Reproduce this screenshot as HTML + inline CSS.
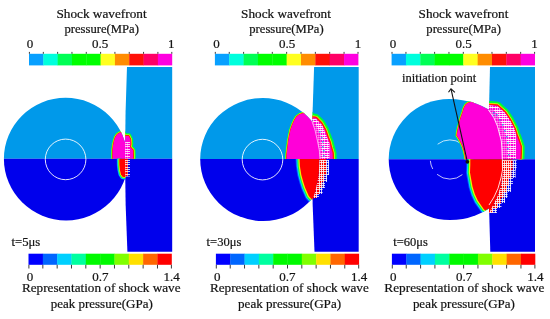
<!DOCTYPE html>
<html><head><meta charset="utf-8"><title>Shock wave pressure</title>
<style>html,body{margin:0;padding:0;background:#fff}svg{display:block}text{font-family:"Liberation Serif",serif;fill:#141414;stroke:#141414;stroke-width:0.22px}</style></head><body>
<svg width="550" height="319" viewBox="0 0 550 319">
<rect width="550" height="319" fill="#fff"/>
<g>
<text x="56.40" y="17.9" font-size="13" text-anchor="start" textLength="90.2" lengthAdjust="spacingAndGlyphs">Shock wavefront</text>
<text x="64.40" y="32.9" font-size="13" text-anchor="start" textLength="74.5" lengthAdjust="spacingAndGlyphs">pressure(MPa)</text>
<text x="30.00" y="47.8" font-size="13" text-anchor="middle">0</text>
<text x="100.00" y="47.8" font-size="13" text-anchor="middle">0.5</text>
<text x="171.20" y="47.8" font-size="13" text-anchor="middle">1</text>
<rect x="29.00" y="53.8" width="14.62" height="11.60" fill="#08a0ff"/>
<rect x="43.32" y="53.8" width="14.62" height="11.60" fill="#00ffdd"/>
<rect x="57.64" y="53.8" width="14.62" height="11.60" fill="#00ff55"/>
<rect x="71.96" y="53.8" width="14.62" height="11.60" fill="#00ff00"/>
<rect x="86.28" y="53.8" width="14.62" height="11.60" fill="#00ff00"/>
<rect x="100.60" y="53.8" width="14.62" height="11.60" fill="#ffff20"/>
<rect x="114.92" y="53.8" width="14.62" height="11.60" fill="#ff8c00"/>
<rect x="129.24" y="53.8" width="14.62" height="11.60" fill="#ff1008"/>
<rect x="143.56" y="53.8" width="14.62" height="11.60" fill="#ff0066"/>
<rect x="157.88" y="53.8" width="14.32" height="11.60" fill="#ff00e0"/>
<line x1="29.40" y1="51.9" x2="29.40" y2="53.8" stroke="#3c3c3c" stroke-width="1"/>
<line x1="43.32" y1="51.9" x2="43.32" y2="53.8" stroke="#3c3c3c" stroke-width="1"/>
<line x1="57.64" y1="51.9" x2="57.64" y2="53.8" stroke="#3c3c3c" stroke-width="1"/>
<line x1="71.96" y1="51.9" x2="71.96" y2="53.8" stroke="#3c3c3c" stroke-width="1"/>
<line x1="86.28" y1="51.9" x2="86.28" y2="53.8" stroke="#3c3c3c" stroke-width="1"/>
<line x1="100.60" y1="51.9" x2="100.60" y2="53.8" stroke="#3c3c3c" stroke-width="1"/>
<line x1="114.92" y1="51.9" x2="114.92" y2="53.8" stroke="#3c3c3c" stroke-width="1"/>
<line x1="129.24" y1="51.9" x2="129.24" y2="53.8" stroke="#3c3c3c" stroke-width="1"/>
<line x1="143.56" y1="51.9" x2="143.56" y2="53.8" stroke="#3c3c3c" stroke-width="1"/>
<line x1="157.88" y1="51.9" x2="157.88" y2="53.8" stroke="#3c3c3c" stroke-width="1"/>
<line x1="171.80" y1="51.9" x2="171.80" y2="53.8" stroke="#3c3c3c" stroke-width="1"/>
<rect x="28.50" y="253.7" width="14.63" height="11.10" fill="#0000ff"/>
<rect x="42.83" y="253.7" width="14.63" height="11.10" fill="#0066ff"/>
<rect x="57.16" y="253.7" width="14.63" height="11.10" fill="#00d0ff"/>
<rect x="71.49" y="253.7" width="14.63" height="11.10" fill="#00ffa0"/>
<rect x="85.82" y="253.7" width="14.63" height="11.10" fill="#00fa00"/>
<rect x="100.15" y="253.7" width="14.63" height="11.10" fill="#00fa00"/>
<rect x="114.48" y="253.7" width="14.63" height="11.10" fill="#80ff00"/>
<rect x="128.81" y="253.7" width="14.63" height="11.10" fill="#ffe000"/>
<rect x="143.14" y="253.7" width="14.63" height="11.10" fill="#ff6600"/>
<rect x="157.47" y="253.7" width="14.33" height="11.10" fill="#ff0000"/>
<line x1="28.90" y1="264.8" x2="28.90" y2="268.5" stroke="#3c3c3c" stroke-width="1"/>
<line x1="42.83" y1="264.8" x2="42.83" y2="268.5" stroke="#3c3c3c" stroke-width="1"/>
<line x1="57.16" y1="264.8" x2="57.16" y2="268.5" stroke="#3c3c3c" stroke-width="1"/>
<line x1="71.49" y1="264.8" x2="71.49" y2="268.5" stroke="#3c3c3c" stroke-width="1"/>
<line x1="85.82" y1="264.8" x2="85.82" y2="268.5" stroke="#3c3c3c" stroke-width="1"/>
<line x1="100.15" y1="264.8" x2="100.15" y2="268.5" stroke="#3c3c3c" stroke-width="1"/>
<line x1="114.48" y1="264.8" x2="114.48" y2="268.5" stroke="#3c3c3c" stroke-width="1"/>
<line x1="128.81" y1="264.8" x2="128.81" y2="268.5" stroke="#3c3c3c" stroke-width="1"/>
<line x1="143.14" y1="264.8" x2="143.14" y2="268.5" stroke="#3c3c3c" stroke-width="1"/>
<line x1="157.47" y1="264.8" x2="157.47" y2="268.5" stroke="#3c3c3c" stroke-width="1"/>
<line x1="171.40" y1="264.8" x2="171.40" y2="268.5" stroke="#3c3c3c" stroke-width="1"/>
<text x="30.00" y="280.5" font-size="13" text-anchor="middle">0</text>
<text x="100.30" y="280.5" font-size="13" text-anchor="middle">0.7</text>
<text x="171.70" y="280.5" font-size="13" text-anchor="middle">1.4</text>
<text x="21.90" y="292.3" font-size="13" text-anchor="start" textLength="158.6" lengthAdjust="spacingAndGlyphs">Representation of shock wave</text>
<text x="50.70" y="308.2" font-size="13" text-anchor="start" textLength="102.1" lengthAdjust="spacingAndGlyphs">peak pressure(GPa)</text>
<text x="11.50" y="245.7" font-size="13" text-anchor="start" textLength="28.8" lengthAdjust="spacingAndGlyphs">t=5μs</text>
<clipPath id="ct1"><path d="M127,67.0 L172.2,67.0 L172.2,158.8 L125,158.8 Q125.1,112 127,67.0 Z"/><path d="M3.90,158.8 A61.7,61.0 0 0 1 65.6,97.80 A61.7,61.0 0 0 1 127.30,158.8 Z"/></clipPath>
<clipPath id="cb1"><path d="M125,158.8 L172.2,158.8 L172.2,251.8 L127.4,251.8 Q125.1,205 125,158.8 Z"/><path d="M3.90,158.8 A62.2,61.6 0 0 0 66.1,220.40 A62.2,61.6 0 0 0 128.30,158.8 Z"/></clipPath>
<clipPath id="cpt1"><path d="M127,67.0 L172.2,67.0 L172.2,158.8 L125,158.8 Q125.1,112 127,67.0 Z"/></clipPath>
<clipPath id="cpb1"><path d="M125,158.8 L172.2,158.8 L172.2,251.8 L127.4,251.8 Q125.1,205 125,158.8 Z"/></clipPath>
<clipPath id="cct1"><path d="M3.90,158.8 A61.7,61.0 0 0 1 65.6,97.80 A61.7,61.0 0 0 1 127.30,158.8 Z"/></clipPath>
<clipPath id="ccb1"><path d="M3.90,158.8 A62.2,61.6 0 0 0 66.1,220.40 A62.2,61.6 0 0 0 128.30,158.8 Z"/></clipPath>
<path d="M127,67.0 L172.2,67.0 L172.2,158.8 L125,158.8 Q125.1,112 127,67.0 Z" fill="#0099ea"/>
<path d="M125,158.8 L172.2,158.8 L172.2,251.8 L127.4,251.8 Q125.1,205 125,158.8 Z" fill="#0000ec"/>
<path d="M3.90,158.8 A61.7,61.0 0 0 1 65.6,97.80 A61.7,61.0 0 0 1 127.30,158.8 Z" fill="#0099ea"/>
<path d="M3.90,158.8 A62.2,61.6 0 0 0 66.1,220.40 A62.2,61.6 0 0 0 128.30,158.8 Z" fill="#0000ec"/>
<circle cx="65.6" cy="159.4" r="20.3" fill="none" stroke="#fff" stroke-width="1" opacity="0.88"/>
<g clip-path="url(#ct1)">
<path d="M112.6,161.8 L112.7,150.0 L113.2,145.4 L114.1,141.0 L115.3,137.2 L117.3,134.3 L120.4,132.5 L123.0,132.3 L125.0,135.9 L128.7,135.9 L130.4,139.4 L130.7,144.0 L130.0,146.9 L131.5,148.6 L133.0,150.2 L133.3,161.8 Z" fill="none" stroke="#00ff30" stroke-width="3.3" stroke-linejoin="round" stroke-linecap="round"/>
<path d="M112.6,161.8 L112.7,150.0 L113.2,145.4 L114.1,141.0 L115.3,137.2 L117.3,134.3 L120.4,132.5 L123.0,132.3 L125.0,135.9 L128.7,135.9 L130.4,139.4 L130.7,144.0 L130.0,146.9 L131.5,148.6 L133.0,150.2 L133.3,161.8 Z" fill="none" stroke="#e8ff00" stroke-width="2.1" stroke-linejoin="round" stroke-linecap="round"/>
<path d="M112.6,161.8 L112.7,150.0 L113.2,145.4 L114.1,141.0 L115.3,137.2 L117.3,134.3 L120.4,132.5 L123.0,132.3 L125.0,135.9 L128.7,135.9 L130.4,139.4 L130.7,144.0 L130.0,146.9 L131.5,148.6 L133.0,150.2 L133.3,161.8 Z" fill="none" stroke="#ff2000" stroke-width="1.2" stroke-linejoin="round" stroke-linecap="round"/>
</g>
<g clip-path="url(#cpt1)">
<path d="M112.6,161.8 L112.7,150.0 L113.2,145.4 L114.1,141.0 L115.3,137.2 L117.3,134.3 L120.4,132.5 L123.0,132.3 L125.0,135.9 L128.7,135.9 L130.4,139.4 L130.7,144.0 L130.0,146.9 L131.5,148.6 L133.0,150.2 L133.3,161.8 Z" fill="none" stroke="#00ff30" stroke-width="5.2" stroke-linejoin="round" stroke-linecap="round"/>
<path d="M112.6,161.8 L112.7,150.0 L113.2,145.4 L114.1,141.0 L115.3,137.2 L117.3,134.3 L120.4,132.5 L123.0,132.3 L125.0,135.9 L128.7,135.9 L130.4,139.4 L130.7,144.0 L130.0,146.9 L131.5,148.6 L133.0,150.2 L133.3,161.8 Z" fill="none" stroke="#e8ff00" stroke-width="3.0" stroke-linejoin="round" stroke-linecap="round"/>
<path d="M112.6,161.8 L112.7,150.0 L113.2,145.4 L114.1,141.0 L115.3,137.2 L117.3,134.3 L120.4,132.5 L123.0,132.3 L125.0,135.9 L128.7,135.9 L130.4,139.4 L130.7,144.0 L130.0,146.9 L131.5,148.6 L133.0,150.2 L133.3,161.8 Z" fill="none" stroke="#ff2000" stroke-width="1.7" stroke-linejoin="round" stroke-linecap="round"/>
</g>
<g clip-path="url(#ct1)">
<path d="M112.6,161.8 L112.7,150.0 L113.2,145.4 L114.1,141.0 L115.3,137.2 L117.3,134.3 L120.4,132.5 L123.0,132.3 L125.0,135.9 L128.7,135.9 L130.4,139.4 L130.7,144.0 L130.0,146.9 L131.5,148.6 L133.0,150.2 L133.3,161.8 Z" fill="#ff00d8"/>
</g>
<g clip-path="url(#ccb1)">
<path d="M119.2,155.8 L119.4,165.0 L119.9,170.0 L120.9,174.3 L122.6,176.8 L126.5,177.4" fill="none" stroke="#0050ff" stroke-width="5.2" stroke-linejoin="round" stroke-linecap="round"/>
<path d="M119.2,155.8 L119.4,165.0 L119.9,170.0 L120.9,174.3 L122.6,176.8 L126.5,177.4" fill="none" stroke="#00d8ff" stroke-width="4.2" stroke-linejoin="round" stroke-linecap="round"/>
<path d="M119.2,155.8 L119.4,165.0 L119.9,170.0 L120.9,174.3 L122.6,176.8 L126.5,177.4" fill="none" stroke="#00ff40" stroke-width="3.0" stroke-linejoin="round" stroke-linecap="round"/>
<path d="M119.2,155.8 L119.4,165.0 L119.9,170.0 L120.9,174.3 L122.6,176.8 L126.5,177.4" fill="none" stroke="#f0f000" stroke-width="1.6" stroke-linejoin="round" stroke-linecap="round"/>
<path d="M119.2,155.8 L119.4,165.0 L119.9,170.0 L120.9,174.3 L122.6,176.8 L126.5,177.4 L126.5,155.8 Z" fill="#ff0000"/>
</g>
<g clip-path="url(#cpt1)"><clipPath id="g1t"><path d="M125.0,141.5 L130.0,141.5 L130.0,158.8 L125.0,158.8 Z"/></clipPath>
<g clip-path="url(#g1t)" shape-rendering="crispEdges">
<path d="M125.00,142.5H130.00M125.00,144.5H130.00M125.00,146.5H130.00M125.00,149.5H130.00M125.00,151.5H130.00M125.00,153.5H130.00M125.00,156.5H130.00M125.00,158.5H130.00" stroke="#fff" stroke-width="1" opacity="0.78" fill="none"/>
<path d="M125.50,142V158.8M127.50,142V158.8M130.50,142V158.8" stroke="#fff" stroke-width="1" opacity="0.35" fill="none"/>
</g></g>
<g clip-path="url(#cpb1)"><path d="M125.0,158.8 L128.0,158.8 L128.0,176.0 L125.0,176.0 Z" fill="#ff0000"/><clipPath id="g1b"><path d="M125.0,158.8 L130.0,158.8 L130.0,176.5 L125.0,176.5 Z"/></clipPath>
<g clip-path="url(#g1b)" shape-rendering="crispEdges">
<path d="M125.00,160.5H130.00M125.00,162.5H130.00M125.00,164.5H130.00M125.00,167.5H130.00M125.00,169.5H130.00M125.00,171.5H130.00M125.00,174.5H130.00M125.00,176.5H130.00" stroke="#fff" stroke-width="1" opacity="0.78" fill="none"/>
<path d="M125.50,160.0V176.5M127.50,160.0V176.5M130.50,160.0V176.5" stroke="#fff" stroke-width="1" opacity="0.35" fill="none"/>
</g></g>
</g>
<g>
<text x="241.10" y="17.9" font-size="13" text-anchor="start" textLength="89.8" lengthAdjust="spacingAndGlyphs">Shock wavefront</text>
<text x="249.30" y="32.9" font-size="13" text-anchor="start" textLength="74.3" lengthAdjust="spacingAndGlyphs">pressure(MPa)</text>
<text x="216.40" y="47.8" font-size="13" text-anchor="middle">0</text>
<text x="287.00" y="47.8" font-size="13" text-anchor="middle">0.5</text>
<text x="358.00" y="47.8" font-size="13" text-anchor="middle">1</text>
<rect x="214.90" y="53.8" width="14.65" height="11.60" fill="#08a0ff"/>
<rect x="229.25" y="53.8" width="14.65" height="11.60" fill="#00ffdd"/>
<rect x="243.60" y="53.8" width="14.65" height="11.60" fill="#00ff55"/>
<rect x="257.95" y="53.8" width="14.65" height="11.60" fill="#00ff00"/>
<rect x="272.30" y="53.8" width="14.65" height="11.60" fill="#00ff00"/>
<rect x="286.65" y="53.8" width="14.65" height="11.60" fill="#ffff20"/>
<rect x="301.00" y="53.8" width="14.65" height="11.60" fill="#ff8c00"/>
<rect x="315.35" y="53.8" width="14.65" height="11.60" fill="#ff1008"/>
<rect x="329.70" y="53.8" width="14.65" height="11.60" fill="#ff0066"/>
<rect x="344.05" y="53.8" width="14.35" height="11.60" fill="#ff00e0"/>
<line x1="215.30" y1="51.9" x2="215.30" y2="53.8" stroke="#3c3c3c" stroke-width="1"/>
<line x1="229.25" y1="51.9" x2="229.25" y2="53.8" stroke="#3c3c3c" stroke-width="1"/>
<line x1="243.60" y1="51.9" x2="243.60" y2="53.8" stroke="#3c3c3c" stroke-width="1"/>
<line x1="257.95" y1="51.9" x2="257.95" y2="53.8" stroke="#3c3c3c" stroke-width="1"/>
<line x1="272.30" y1="51.9" x2="272.30" y2="53.8" stroke="#3c3c3c" stroke-width="1"/>
<line x1="286.65" y1="51.9" x2="286.65" y2="53.8" stroke="#3c3c3c" stroke-width="1"/>
<line x1="301.00" y1="51.9" x2="301.00" y2="53.8" stroke="#3c3c3c" stroke-width="1"/>
<line x1="315.35" y1="51.9" x2="315.35" y2="53.8" stroke="#3c3c3c" stroke-width="1"/>
<line x1="329.70" y1="51.9" x2="329.70" y2="53.8" stroke="#3c3c3c" stroke-width="1"/>
<line x1="344.05" y1="51.9" x2="344.05" y2="53.8" stroke="#3c3c3c" stroke-width="1"/>
<line x1="358.00" y1="51.9" x2="358.00" y2="53.8" stroke="#3c3c3c" stroke-width="1"/>
<rect x="215.90" y="253.7" width="14.62" height="11.10" fill="#0000ff"/>
<rect x="230.22" y="253.7" width="14.62" height="11.10" fill="#0066ff"/>
<rect x="244.54" y="253.7" width="14.62" height="11.10" fill="#00d0ff"/>
<rect x="258.86" y="253.7" width="14.62" height="11.10" fill="#00ffa0"/>
<rect x="273.18" y="253.7" width="14.62" height="11.10" fill="#00fa00"/>
<rect x="287.50" y="253.7" width="14.62" height="11.10" fill="#00fa00"/>
<rect x="301.82" y="253.7" width="14.62" height="11.10" fill="#80ff00"/>
<rect x="316.14" y="253.7" width="14.62" height="11.10" fill="#ffe000"/>
<rect x="330.46" y="253.7" width="14.62" height="11.10" fill="#ff6600"/>
<rect x="344.78" y="253.7" width="14.32" height="11.10" fill="#ff0000"/>
<line x1="216.30" y1="264.8" x2="216.30" y2="268.5" stroke="#3c3c3c" stroke-width="1"/>
<line x1="230.22" y1="264.8" x2="230.22" y2="268.5" stroke="#3c3c3c" stroke-width="1"/>
<line x1="244.54" y1="264.8" x2="244.54" y2="268.5" stroke="#3c3c3c" stroke-width="1"/>
<line x1="258.86" y1="264.8" x2="258.86" y2="268.5" stroke="#3c3c3c" stroke-width="1"/>
<line x1="273.18" y1="264.8" x2="273.18" y2="268.5" stroke="#3c3c3c" stroke-width="1"/>
<line x1="287.50" y1="264.8" x2="287.50" y2="268.5" stroke="#3c3c3c" stroke-width="1"/>
<line x1="301.82" y1="264.8" x2="301.82" y2="268.5" stroke="#3c3c3c" stroke-width="1"/>
<line x1="316.14" y1="264.8" x2="316.14" y2="268.5" stroke="#3c3c3c" stroke-width="1"/>
<line x1="330.46" y1="264.8" x2="330.46" y2="268.5" stroke="#3c3c3c" stroke-width="1"/>
<line x1="344.78" y1="264.8" x2="344.78" y2="268.5" stroke="#3c3c3c" stroke-width="1"/>
<line x1="358.70" y1="264.8" x2="358.70" y2="268.5" stroke="#3c3c3c" stroke-width="1"/>
<text x="217.20" y="280.5" font-size="13" text-anchor="middle">0</text>
<text x="287.40" y="280.5" font-size="13" text-anchor="middle">0.7</text>
<text x="359.00" y="280.5" font-size="13" text-anchor="middle">1.4</text>
<text x="209.90" y="292.3" font-size="13" text-anchor="start" textLength="158.9" lengthAdjust="spacingAndGlyphs">Representation of shock wave</text>
<text x="238.00" y="308.2" font-size="13" text-anchor="start" textLength="103.1" lengthAdjust="spacingAndGlyphs">peak pressure(GPa)</text>
<text x="206.60" y="245.7" font-size="13" text-anchor="start" textLength="34.7" lengthAdjust="spacingAndGlyphs">t=30μs</text>
<clipPath id="ct2"><path d="M314.1,67.0 L358.7,67.0 L358.7,159.0 L312,159.0 Q312.1,112 314.1,67.0 Z"/><path d="M200.20,159.0 A62.5,61.0 0 0 1 262.7,98.00 A62.5,61.0 0 0 1 325.20,159.0 Z"/></clipPath>
<clipPath id="cb2"><path d="M312,159.0 L358.7,159.0 L358.7,251.8 L314.5,251.8 Q312.1,205 312,159.0 Z"/><path d="M200.20,159.0 A63.15,62.1 0 0 0 263.35,221.10 A63.15,62.1 0 0 0 326.50,159.0 Z"/></clipPath>
<clipPath id="cpt2"><path d="M314.1,67.0 L358.7,67.0 L358.7,159.0 L312,159.0 Q312.1,112 314.1,67.0 Z"/></clipPath>
<clipPath id="cpb2"><path d="M312,159.0 L358.7,159.0 L358.7,251.8 L314.5,251.8 Q312.1,205 312,159.0 Z"/></clipPath>
<clipPath id="cct2"><path d="M200.20,159.0 A62.5,61.0 0 0 1 262.7,98.00 A62.5,61.0 0 0 1 325.20,159.0 Z"/></clipPath>
<clipPath id="ccb2"><path d="M200.20,159.0 A63.15,62.1 0 0 0 263.35,221.10 A63.15,62.1 0 0 0 326.50,159.0 Z"/></clipPath>
<path d="M314.1,67.0 L358.7,67.0 L358.7,159.0 L312,159.0 Q312.1,112 314.1,67.0 Z" fill="#0099ea"/>
<path d="M312,159.0 L358.7,159.0 L358.7,251.8 L314.5,251.8 Q312.1,205 312,159.0 Z" fill="#0000ec"/>
<path d="M200.20,159.0 A62.5,61.0 0 0 1 262.7,98.00 A62.5,61.0 0 0 1 325.20,159.0 Z" fill="#0099ea"/>
<path d="M200.20,159.0 A63.15,62.1 0 0 0 263.35,221.10 A63.15,62.1 0 0 0 326.50,159.0 Z" fill="#0000ec"/>
<circle cx="262.5" cy="159.6" r="20.3" fill="none" stroke="#fff" stroke-width="1" opacity="0.88"/>
<g clip-path="url(#ct2)">
<path d="M286.4,162.0 L286.8,154.0 L287.3,150.0 L288.5,140.0 L290.5,130.0 L292.3,125.0 L294.5,120.0 L296.3,117.0 L299.5,114.5 L303.0,113.2 L308.0,113.0 L312.0,117.3 L316.0,118.0 L321.0,123.0 L325.0,130.0 L327.5,137.0 L329.5,142.0 L331.0,148.0 L332.5,153.0 L332.9,162.0 Z" fill="none" stroke="#00ff30" stroke-width="3.3" stroke-linejoin="round" stroke-linecap="round"/>
<path d="M286.4,162.0 L286.8,154.0 L287.3,150.0 L288.5,140.0 L290.5,130.0 L292.3,125.0 L294.5,120.0 L296.3,117.0 L299.5,114.5 L303.0,113.2 L308.0,113.0 L312.0,117.3 L316.0,118.0 L321.0,123.0 L325.0,130.0 L327.5,137.0 L329.5,142.0 L331.0,148.0 L332.5,153.0 L332.9,162.0 Z" fill="none" stroke="#e8ff00" stroke-width="2.1" stroke-linejoin="round" stroke-linecap="round"/>
<path d="M286.4,162.0 L286.8,154.0 L287.3,150.0 L288.5,140.0 L290.5,130.0 L292.3,125.0 L294.5,120.0 L296.3,117.0 L299.5,114.5 L303.0,113.2 L308.0,113.0 L312.0,117.3 L316.0,118.0 L321.0,123.0 L325.0,130.0 L327.5,137.0 L329.5,142.0 L331.0,148.0 L332.5,153.0 L332.9,162.0 Z" fill="none" stroke="#ff2000" stroke-width="1.2" stroke-linejoin="round" stroke-linecap="round"/>
</g>
<g clip-path="url(#cpt2)">
<path d="M286.4,162.0 L286.8,154.0 L287.3,150.0 L288.5,140.0 L290.5,130.0 L292.3,125.0 L294.5,120.0 L296.3,117.0 L299.5,114.5 L303.0,113.2 L308.0,113.0 L312.0,117.3 L316.0,118.0 L321.0,123.0 L325.0,130.0 L327.5,137.0 L329.5,142.0 L331.0,148.0 L332.5,153.0 L332.9,162.0 Z" fill="none" stroke="#00ff30" stroke-width="8.0" stroke-linejoin="round" stroke-linecap="round"/>
<path d="M286.4,162.0 L286.8,154.0 L287.3,150.0 L288.5,140.0 L290.5,130.0 L292.3,125.0 L294.5,120.0 L296.3,117.0 L299.5,114.5 L303.0,113.2 L308.0,113.0 L312.0,117.3 L316.0,118.0 L321.0,123.0 L325.0,130.0 L327.5,137.0 L329.5,142.0 L331.0,148.0 L332.5,153.0 L332.9,162.0 Z" fill="none" stroke="#e8ff00" stroke-width="4.2" stroke-linejoin="round" stroke-linecap="round"/>
<path d="M286.4,162.0 L286.8,154.0 L287.3,150.0 L288.5,140.0 L290.5,130.0 L292.3,125.0 L294.5,120.0 L296.3,117.0 L299.5,114.5 L303.0,113.2 L308.0,113.0 L312.0,117.3 L316.0,118.0 L321.0,123.0 L325.0,130.0 L327.5,137.0 L329.5,142.0 L331.0,148.0 L332.5,153.0 L332.9,162.0 Z" fill="none" stroke="#ff2000" stroke-width="2.8" stroke-linejoin="round" stroke-linecap="round"/>
</g>
<g clip-path="url(#ct2)">
<path d="M286.4,162.0 L286.8,154.0 L287.3,150.0 L288.5,140.0 L290.5,130.0 L292.3,125.0 L294.5,120.0 L296.3,117.0 L299.5,114.5 L303.0,113.2 L308.0,113.0 L312.0,117.3 L316.0,118.0 L321.0,123.0 L325.0,130.0 L327.5,137.0 L329.5,142.0 L331.0,148.0 L332.5,153.0 L332.9,162.0 Z" fill="#ff00d8"/>
</g>
<g clip-path="url(#ccb2)">
<path d="M299.4,156.0 L299.9,166.0 L301.3,174.8 L303.0,181.0 L305.0,187.3 L308.8,196.0 L312.8,200.5" fill="none" stroke="#0050ff" stroke-width="8.0" stroke-linejoin="round" stroke-linecap="round"/>
<path d="M299.4,156.0 L299.9,166.0 L301.3,174.8 L303.0,181.0 L305.0,187.3 L308.8,196.0 L312.8,200.5" fill="none" stroke="#00d8ff" stroke-width="6.2" stroke-linejoin="round" stroke-linecap="round"/>
<path d="M299.4,156.0 L299.9,166.0 L301.3,174.8 L303.0,181.0 L305.0,187.3 L308.8,196.0 L312.8,200.5" fill="none" stroke="#00ff40" stroke-width="4.4" stroke-linejoin="round" stroke-linecap="round"/>
<path d="M299.4,156.0 L299.9,166.0 L301.3,174.8 L303.0,181.0 L305.0,187.3 L308.8,196.0 L312.8,200.5" fill="none" stroke="#f0f000" stroke-width="2.4" stroke-linejoin="round" stroke-linecap="round"/>
</g>
<g clip-path="url(#cb2)">
<path d="M299.4,156.0 L299.9,166.0 L301.3,174.8 L303.0,181.0 L305.0,187.3 L308.8,196.0 L312.8,200.5 L314.4,194.8 L316.3,187.3 L318.8,174.8 L319.6,156.0 Z" fill="#ff0000"/>
</g>
<g clip-path="url(#ct2)"><clipPath id="g2t"><path d="M312.0,119.0 L316.0,119.0 L322.0,125.0 L326.0,135.0 L329.3,143.0 L329.3,159.0 L320.0,159.0 L319.0,149.0 L317.0,135.0 L315.0,128.0 L312.0,121.5 Z"/></clipPath>
<g clip-path="url(#g2t)" shape-rendering="crispEdges">
<path d="M311.00,119.5H330.00M311.00,121.5H330.00M311.00,124.5H330.00M311.00,126.5H330.00M311.00,128.5H330.00M311.00,130.5H330.00M311.00,132.5H330.00M311.00,135.5H330.00M311.00,137.5H330.00M311.00,139.5H330.00M311.00,142.5H330.00M311.00,144.5H330.00M311.00,146.5H330.00M311.00,148.5H330.00M311.00,150.5H330.00M311.00,153.5H330.00M311.00,155.5H330.00M311.00,157.5H330.00" stroke="#fff" stroke-width="1" opacity="0.38" fill="none"/>
<path d="M311.50,119V159.0M313.50,119V159.0M316.50,119V159.0M318.50,119V159.0M320.50,119V159.0M322.50,119V159.0M324.50,119V159.0M327.50,119V159.0M329.50,119V159.0" stroke="#fff" stroke-width="1" opacity="0.25" fill="none"/>
</g>
<clipPath id="g2ts"><path d="M312.0,119.0 L316.0,119.0 L322.0,125.0 L326.0,135.0 L329.3,143.0 L329.3,159.0 L321.5,159.0 L321.5,146.0 L320.5,136.0 L318.5,130.0 L315.5,124.0 L312.0,120.5 Z"/></clipPath>
<g clip-path="url(#g2ts)" shape-rendering="crispEdges">
<path d="M311.00,119.5H330.00M311.00,121.5H330.00M311.00,124.5H330.00M311.00,126.5H330.00M311.00,128.5H330.00M311.00,130.5H330.00M311.00,132.5H330.00M311.00,135.5H330.00M311.00,137.5H330.00M311.00,139.5H330.00M311.00,142.5H330.00M311.00,144.5H330.00M311.00,146.5H330.00M311.00,148.5H330.00M311.00,150.5H330.00M311.00,153.5H330.00M311.00,155.5H330.00M311.00,157.5H330.00" stroke="#fff" stroke-width="1" opacity="0.85" fill="none"/>
<path d="M311.50,119V159.0M313.50,119V159.0M316.50,119V159.0M318.50,119V159.0M320.50,119V159.0M322.50,119V159.0M324.50,119V159.0M327.50,119V159.0M329.50,119V159.0" stroke="#fff" stroke-width="1" opacity="0.4" fill="none"/>
</g></g>
<rect x="321" y="137" width="1.6" height="1.6" fill="#20a8f0" opacity="0.85"/>
<rect x="322" y="141" width="1.6" height="1.6" fill="#20a8f0" opacity="0.85"/>
<rect x="322" y="146" width="1.6" height="1.6" fill="#20a8f0" opacity="0.85"/>
<rect x="323" y="150" width="1.6" height="1.6" fill="#20a8f0" opacity="0.85"/>
<rect x="323" y="155" width="1.6" height="1.6" fill="#20a8f0" opacity="0.85"/>
<rect x="319" y="131" width="1.6" height="1.6" fill="#20a8f0" opacity="0.85"/>
<path d="M312.0,121.5 L315.0,130.0 L317.5,141.0 L319.3,150.0 L320.0,159.0" fill="none" stroke="#fff" stroke-width="0.8" opacity="0.8"/>
<g clip-path="url(#cb2)"><path d="M319.6,159.0 L326.3,159.0 L326.3,175.0 L324.3,175.0 L324.3,182.0 L322.3,182.0 L322.3,188.0 L320.0,188.0 L320.0,194.0 L316.5,194.0 L316.5,198.0 L313.0,198.0 L314.4,194.8 L316.3,187.3 L318.8,174.8 Z" fill="#ff0000"/><clipPath id="g2b"><path d="M319.6,159.0 L329.0,159.0 L329.0,175.0 L327.0,175.0 L327.0,182.0 L325.0,182.0 L325.0,188.0 L322.6,188.0 L322.6,194.0 L319.0,194.0 L319.0,198.0 L313.0,198.0 L314.4,194.8 L316.3,187.3 L318.8,174.8 Z"/></clipPath>
<g clip-path="url(#g2b)" shape-rendering="crispEdges">
<path d="M312.00,160.5H330.00M312.00,162.5H330.00M312.00,165.5H330.00M312.00,167.5H330.00M312.00,169.5H330.00M312.00,171.5H330.00M312.00,174.5H330.00M312.00,176.5H330.00M312.00,178.5H330.00M312.00,180.5H330.00M312.00,183.5H330.00M312.00,185.5H330.00M312.00,187.5H330.00M312.00,189.5H330.00M312.00,192.5H330.00M312.00,194.5H330.00M312.00,196.5H330.00M312.00,198.5H330.00" stroke="#fff" stroke-width="1" opacity="0.78" fill="none"/>
<path d="M312.50,160.2V199M314.50,160.2V199M316.50,160.2V199M319.50,160.2V199M321.50,160.2V199M323.50,160.2V199M326.50,160.2V199M328.50,160.2V199M330.50,160.2V199" stroke="#fff" stroke-width="1" opacity="0.8" fill="none"/>
</g></g>
</g>
<g>
<text x="418.60" y="17.9" font-size="13" text-anchor="start" textLength="89.7" lengthAdjust="spacingAndGlyphs">Shock wavefront</text>
<text x="426.30" y="32.9" font-size="13" text-anchor="start" textLength="74.6" lengthAdjust="spacingAndGlyphs">pressure(MPa)</text>
<text x="393.10" y="47.8" font-size="13" text-anchor="middle">0</text>
<text x="463.70" y="47.8" font-size="13" text-anchor="middle">0.5</text>
<text x="534.60" y="47.8" font-size="13" text-anchor="middle">1</text>
<rect x="391.60" y="53.8" width="14.64" height="11.60" fill="#08a0ff"/>
<rect x="405.94" y="53.8" width="14.64" height="11.60" fill="#00ffdd"/>
<rect x="420.28" y="53.8" width="14.64" height="11.60" fill="#00ff55"/>
<rect x="434.62" y="53.8" width="14.64" height="11.60" fill="#00ff00"/>
<rect x="448.96" y="53.8" width="14.64" height="11.60" fill="#00ff00"/>
<rect x="463.30" y="53.8" width="14.64" height="11.60" fill="#ffff20"/>
<rect x="477.64" y="53.8" width="14.64" height="11.60" fill="#ff8c00"/>
<rect x="491.98" y="53.8" width="14.64" height="11.60" fill="#ff1008"/>
<rect x="506.32" y="53.8" width="14.64" height="11.60" fill="#ff0066"/>
<rect x="520.66" y="53.8" width="14.34" height="11.60" fill="#ff00e0"/>
<line x1="392.00" y1="51.9" x2="392.00" y2="53.8" stroke="#3c3c3c" stroke-width="1"/>
<line x1="405.94" y1="51.9" x2="405.94" y2="53.8" stroke="#3c3c3c" stroke-width="1"/>
<line x1="420.28" y1="51.9" x2="420.28" y2="53.8" stroke="#3c3c3c" stroke-width="1"/>
<line x1="434.62" y1="51.9" x2="434.62" y2="53.8" stroke="#3c3c3c" stroke-width="1"/>
<line x1="448.96" y1="51.9" x2="448.96" y2="53.8" stroke="#3c3c3c" stroke-width="1"/>
<line x1="463.30" y1="51.9" x2="463.30" y2="53.8" stroke="#3c3c3c" stroke-width="1"/>
<line x1="477.64" y1="51.9" x2="477.64" y2="53.8" stroke="#3c3c3c" stroke-width="1"/>
<line x1="491.98" y1="51.9" x2="491.98" y2="53.8" stroke="#3c3c3c" stroke-width="1"/>
<line x1="506.32" y1="51.9" x2="506.32" y2="53.8" stroke="#3c3c3c" stroke-width="1"/>
<line x1="520.66" y1="51.9" x2="520.66" y2="53.8" stroke="#3c3c3c" stroke-width="1"/>
<line x1="534.60" y1="51.9" x2="534.60" y2="53.8" stroke="#3c3c3c" stroke-width="1"/>
<rect x="391.90" y="253.7" width="14.64" height="11.10" fill="#0000ff"/>
<rect x="406.24" y="253.7" width="14.64" height="11.10" fill="#0066ff"/>
<rect x="420.58" y="253.7" width="14.64" height="11.10" fill="#00d0ff"/>
<rect x="434.92" y="253.7" width="14.64" height="11.10" fill="#00ffa0"/>
<rect x="449.26" y="253.7" width="14.64" height="11.10" fill="#00fa00"/>
<rect x="463.60" y="253.7" width="14.64" height="11.10" fill="#00fa00"/>
<rect x="477.94" y="253.7" width="14.64" height="11.10" fill="#80ff00"/>
<rect x="492.28" y="253.7" width="14.64" height="11.10" fill="#ffe000"/>
<rect x="506.62" y="253.7" width="14.64" height="11.10" fill="#ff6600"/>
<rect x="520.96" y="253.7" width="14.34" height="11.10" fill="#ff0000"/>
<line x1="392.30" y1="264.8" x2="392.30" y2="268.5" stroke="#3c3c3c" stroke-width="1"/>
<line x1="406.24" y1="264.8" x2="406.24" y2="268.5" stroke="#3c3c3c" stroke-width="1"/>
<line x1="420.58" y1="264.8" x2="420.58" y2="268.5" stroke="#3c3c3c" stroke-width="1"/>
<line x1="434.92" y1="264.8" x2="434.92" y2="268.5" stroke="#3c3c3c" stroke-width="1"/>
<line x1="449.26" y1="264.8" x2="449.26" y2="268.5" stroke="#3c3c3c" stroke-width="1"/>
<line x1="463.60" y1="264.8" x2="463.60" y2="268.5" stroke="#3c3c3c" stroke-width="1"/>
<line x1="477.94" y1="264.8" x2="477.94" y2="268.5" stroke="#3c3c3c" stroke-width="1"/>
<line x1="492.28" y1="264.8" x2="492.28" y2="268.5" stroke="#3c3c3c" stroke-width="1"/>
<line x1="506.62" y1="264.8" x2="506.62" y2="268.5" stroke="#3c3c3c" stroke-width="1"/>
<line x1="520.96" y1="264.8" x2="520.96" y2="268.5" stroke="#3c3c3c" stroke-width="1"/>
<line x1="534.90" y1="264.8" x2="534.90" y2="268.5" stroke="#3c3c3c" stroke-width="1"/>
<text x="393.30" y="280.5" font-size="13" text-anchor="middle">0</text>
<text x="464.00" y="280.5" font-size="13" text-anchor="middle">0.7</text>
<text x="535.30" y="280.5" font-size="13" text-anchor="middle">1.4</text>
<text x="384.30" y="292.3" font-size="13" text-anchor="start" textLength="160" lengthAdjust="spacingAndGlyphs">Representation of shock wave</text>
<text x="412.90" y="308.2" font-size="13" text-anchor="start" textLength="101.9" lengthAdjust="spacingAndGlyphs">peak pressure(GPa)</text>
<text x="393.30" y="245.7" font-size="13" text-anchor="start" textLength="34.6" lengthAdjust="spacingAndGlyphs">t=60μs</text>
<clipPath id="ct3"><path d="M490,67.0 L535,67.0 L535,159.3 L488.5,159.3 Q488.6,112 490,67.0 Z"/><path d="M388.70,159.3 A60.3,60.3 0 0 1 449,99.00 A70,60.3 0 0 1 519.00,159.3 Z"/></clipPath>
<clipPath id="cb3"><path d="M488.5,159.3 L535,159.3 L535,251.8 L490.3,251.8 Q488.6,205 488.5,159.3 Z"/><path d="M388.70,159.3 A61.3,60.8 0 0 0 450,220.10 A66,60.8 0 0 0 516.00,159.3 Z"/></clipPath>
<clipPath id="cpt3"><path d="M490,67.0 L535,67.0 L535,159.3 L488.5,159.3 Q488.6,112 490,67.0 Z"/></clipPath>
<clipPath id="cpb3"><path d="M488.5,159.3 L535,159.3 L535,251.8 L490.3,251.8 Q488.6,205 488.5,159.3 Z"/></clipPath>
<clipPath id="cct3"><path d="M388.70,159.3 A60.3,60.3 0 0 1 449,99.00 A70,60.3 0 0 1 519.00,159.3 Z"/></clipPath>
<clipPath id="ccb3"><path d="M388.70,159.3 A61.3,60.8 0 0 0 450,220.10 A66,60.8 0 0 0 516.00,159.3 Z"/></clipPath>
<path d="M490,67.0 L535,67.0 L535,159.3 L488.5,159.3 Q488.6,112 490,67.0 Z" fill="#0099ea"/>
<path d="M488.5,159.3 L535,159.3 L535,251.8 L490.3,251.8 Q488.6,205 488.5,159.3 Z" fill="#0000ec"/>
<path d="M388.70,159.3 A60.3,60.3 0 0 1 449,99.00 A70,60.3 0 0 1 519.00,159.3 Z" fill="#0099ea"/>
<path d="M388.70,159.3 A61.3,60.8 0 0 0 450,220.10 A66,60.8 0 0 0 516.00,159.3 Z" fill="#0000ec"/>
<circle cx="449.9" cy="159.5" r="19.6" fill="none" stroke="#fff" stroke-width="1" opacity="0.75" stroke-dasharray="27.4 6.8 8.5 18.8 37.6 24.0" stroke-dashoffset="-17.1"/>
<g clip-path="url(#ct3)">
<path d="M465.8,162.3 L465.3,156.0 L464.2,151.0 L462.8,146.5 L461.0,142.5 L458.8,138.5 L456.9,135.4 L457.8,130.0 L459.1,124.4 L460.3,119.5 L461.6,115.5 L463.0,111.6 L464.0,108.0 L465.6,105.0 L467.6,103.3 L470.7,102.1 L480.0,101.0 L488.5,104.8 L497.5,105.7 L505.0,112.5 L510.0,120.0 L514.5,128.8 L516.5,135.0 L518.2,139.3 L520.7,146.8 L520.6,153.0 L520.2,162.3 Z" fill="none" stroke="#00ff30" stroke-width="3.3" stroke-linejoin="round" stroke-linecap="round"/>
<path d="M465.8,162.3 L465.3,156.0 L464.2,151.0 L462.8,146.5 L461.0,142.5 L458.8,138.5 L456.9,135.4 L457.8,130.0 L459.1,124.4 L460.3,119.5 L461.6,115.5 L463.0,111.6 L464.0,108.0 L465.6,105.0 L467.6,103.3 L470.7,102.1 L480.0,101.0 L488.5,104.8 L497.5,105.7 L505.0,112.5 L510.0,120.0 L514.5,128.8 L516.5,135.0 L518.2,139.3 L520.7,146.8 L520.6,153.0 L520.2,162.3 Z" fill="none" stroke="#e8ff00" stroke-width="2.1" stroke-linejoin="round" stroke-linecap="round"/>
<path d="M465.8,162.3 L465.3,156.0 L464.2,151.0 L462.8,146.5 L461.0,142.5 L458.8,138.5 L456.9,135.4 L457.8,130.0 L459.1,124.4 L460.3,119.5 L461.6,115.5 L463.0,111.6 L464.0,108.0 L465.6,105.0 L467.6,103.3 L470.7,102.1 L480.0,101.0 L488.5,104.8 L497.5,105.7 L505.0,112.5 L510.0,120.0 L514.5,128.8 L516.5,135.0 L518.2,139.3 L520.7,146.8 L520.6,153.0 L520.2,162.3 Z" fill="none" stroke="#ff2000" stroke-width="1.2" stroke-linejoin="round" stroke-linecap="round"/>
</g>
<g clip-path="url(#cpt3)">
<path d="M465.8,162.3 L465.3,156.0 L464.2,151.0 L462.8,146.5 L461.0,142.5 L458.8,138.5 L456.9,135.4 L457.8,130.0 L459.1,124.4 L460.3,119.5 L461.6,115.5 L463.0,111.6 L464.0,108.0 L465.6,105.0 L467.6,103.3 L470.7,102.1 L480.0,101.0 L488.5,104.8 L497.5,105.7 L505.0,112.5 L510.0,120.0 L514.5,128.8 L516.5,135.0 L518.2,139.3 L520.7,146.8 L520.6,153.0 L520.2,162.3 Z" fill="none" stroke="#00ff30" stroke-width="8.0" stroke-linejoin="round" stroke-linecap="round"/>
<path d="M465.8,162.3 L465.3,156.0 L464.2,151.0 L462.8,146.5 L461.0,142.5 L458.8,138.5 L456.9,135.4 L457.8,130.0 L459.1,124.4 L460.3,119.5 L461.6,115.5 L463.0,111.6 L464.0,108.0 L465.6,105.0 L467.6,103.3 L470.7,102.1 L480.0,101.0 L488.5,104.8 L497.5,105.7 L505.0,112.5 L510.0,120.0 L514.5,128.8 L516.5,135.0 L518.2,139.3 L520.7,146.8 L520.6,153.0 L520.2,162.3 Z" fill="none" stroke="#e8ff00" stroke-width="4.2" stroke-linejoin="round" stroke-linecap="round"/>
<path d="M465.8,162.3 L465.3,156.0 L464.2,151.0 L462.8,146.5 L461.0,142.5 L458.8,138.5 L456.9,135.4 L457.8,130.0 L459.1,124.4 L460.3,119.5 L461.6,115.5 L463.0,111.6 L464.0,108.0 L465.6,105.0 L467.6,103.3 L470.7,102.1 L480.0,101.0 L488.5,104.8 L497.5,105.7 L505.0,112.5 L510.0,120.0 L514.5,128.8 L516.5,135.0 L518.2,139.3 L520.7,146.8 L520.6,153.0 L520.2,162.3 Z" fill="none" stroke="#ff2000" stroke-width="2.8" stroke-linejoin="round" stroke-linecap="round"/>
</g>
<g clip-path="url(#ct3)">
<path d="M465.8,162.3 L465.3,156.0 L464.2,151.0 L462.8,146.5 L461.0,142.5 L458.8,138.5 L456.9,135.4 L457.8,130.0 L459.1,124.4 L460.3,119.5 L461.6,115.5 L463.0,111.6 L464.0,108.0 L465.6,105.0 L467.6,103.3 L470.7,102.1 L480.0,101.0 L488.5,104.8 L497.5,105.7 L505.0,112.5 L510.0,120.0 L514.5,128.8 L516.5,135.0 L518.2,139.3 L520.7,146.8 L520.6,153.0 L520.2,162.3 Z" fill="#ff00d8"/>
</g>
<g clip-path="url(#ccb3)">
<path d="M470.3,156.3 L470.3,165.0 L470.0,172.5 L472.5,186.6 L474.8,194.0 L477.8,200.6 L484.0,209.4 L489.5,213.0" fill="none" stroke="#0050ff" stroke-width="8.0" stroke-linejoin="round" stroke-linecap="round"/>
<path d="M470.3,156.3 L470.3,165.0 L470.0,172.5 L472.5,186.6 L474.8,194.0 L477.8,200.6 L484.0,209.4 L489.5,213.0" fill="none" stroke="#00d8ff" stroke-width="6.2" stroke-linejoin="round" stroke-linecap="round"/>
<path d="M470.3,156.3 L470.3,165.0 L470.0,172.5 L472.5,186.6 L474.8,194.0 L477.8,200.6 L484.0,209.4 L489.5,213.0" fill="none" stroke="#00ff40" stroke-width="4.4" stroke-linejoin="round" stroke-linecap="round"/>
<path d="M470.3,156.3 L470.3,165.0 L470.0,172.5 L472.5,186.6 L474.8,194.0 L477.8,200.6 L484.0,209.4 L489.5,213.0" fill="none" stroke="#f0f000" stroke-width="2.4" stroke-linejoin="round" stroke-linecap="round"/>
</g>
<g clip-path="url(#cb3)">
<path d="M470.3,156.3 L470.3,165.0 L470.0,172.5 L472.5,186.6 L474.8,194.0 L477.8,200.6 L484.0,209.4 L489.5,213.0 L492.7,205.9 L498.0,195.4 L501.5,183.0 L503.2,172.5 L502.4,156.3 Z" fill="#ff0000"/>
</g>
<g clip-path="url(#ct3)"><clipPath id="g3t"><path d="M488.5,105.5 L497.5,106.2 L505.0,113.0 L510.0,120.5 L514.5,129.0 L516.0,135.0 L516.0,159.3 L502.0,159.3 L501.3,140.5 L498.8,132.0 L497.5,126.3 L493.8,117.6 L488.5,110.0 Z"/></clipPath>
<g clip-path="url(#g3t)" shape-rendering="crispEdges">
<path d="M488.00,105.5H517.00M488.00,107.5H517.00M488.00,110.5H517.00M488.00,112.5H517.00M488.00,114.5H517.00M488.00,116.5H517.00M488.00,118.5H517.00M488.00,121.5H517.00M488.00,123.5H517.00M488.00,125.5H517.00M488.00,128.5H517.00M488.00,130.5H517.00M488.00,132.5H517.00M488.00,134.5H517.00M488.00,136.5H517.00M488.00,139.5H517.00M488.00,141.5H517.00M488.00,143.5H517.00M488.00,146.5H517.00M488.00,148.5H517.00M488.00,150.5H517.00M488.00,152.5H517.00M488.00,154.5H517.00M488.00,157.5H517.00M488.00,159.5H517.00" stroke="#fff" stroke-width="1" opacity="0.38" fill="none"/>
<path d="M488.50,105V159.3M490.50,105V159.3M492.50,105V159.3M495.50,105V159.3M497.50,105V159.3M499.50,105V159.3M502.50,105V159.3M504.50,105V159.3M506.50,105V159.3M508.50,105V159.3M510.50,105V159.3M513.50,105V159.3M515.50,105V159.3" stroke="#fff" stroke-width="1" opacity="0.25" fill="none"/>
</g>
<clipPath id="g3ts"><path d="M488.5,105.5 L497.5,106.2 L505.0,113.0 L510.0,120.5 L514.5,129.0 L516.0,135.0 L516.0,159.3 L507.5,159.3 L507.3,145.0 L506.0,136.0 L503.5,128.0 L500.0,120.0 L496.5,113.5 L492.0,108.5 L488.5,107.5 Z"/></clipPath>
<g clip-path="url(#g3ts)" shape-rendering="crispEdges">
<path d="M488.00,105.5H517.00M488.00,107.5H517.00M488.00,110.5H517.00M488.00,112.5H517.00M488.00,114.5H517.00M488.00,116.5H517.00M488.00,118.5H517.00M488.00,121.5H517.00M488.00,123.5H517.00M488.00,125.5H517.00M488.00,128.5H517.00M488.00,130.5H517.00M488.00,132.5H517.00M488.00,134.5H517.00M488.00,136.5H517.00M488.00,139.5H517.00M488.00,141.5H517.00M488.00,143.5H517.00M488.00,146.5H517.00M488.00,148.5H517.00M488.00,150.5H517.00M488.00,152.5H517.00M488.00,154.5H517.00M488.00,157.5H517.00M488.00,159.5H517.00" stroke="#fff" stroke-width="1" opacity="0.85" fill="none"/>
<path d="M488.50,105V159.3M490.50,105V159.3M492.50,105V159.3M495.50,105V159.3M497.50,105V159.3M499.50,105V159.3M502.50,105V159.3M504.50,105V159.3M506.50,105V159.3M508.50,105V159.3M510.50,105V159.3M513.50,105V159.3M515.50,105V159.3" stroke="#fff" stroke-width="1" opacity="0.4" fill="none"/>
</g></g>
<rect x="493" y="112" width="1.6" height="1.6" fill="#20a8f0" opacity="0.85"/>
<rect x="496" y="114" width="1.6" height="1.6" fill="#20a8f0" opacity="0.85"/>
<rect x="499" y="119" width="1.6" height="1.6" fill="#20a8f0" opacity="0.85"/>
<rect x="502" y="124" width="1.6" height="1.6" fill="#20a8f0" opacity="0.85"/>
<rect x="504" y="130" width="1.6" height="1.6" fill="#20a8f0" opacity="0.85"/>
<rect x="506" y="136" width="1.6" height="1.6" fill="#20a8f0" opacity="0.85"/>
<rect x="507" y="142" width="1.6" height="1.6" fill="#20a8f0" opacity="0.85"/>
<rect x="507" y="148" width="1.6" height="1.6" fill="#20a8f0" opacity="0.85"/>
<rect x="508" y="154" width="1.6" height="1.6" fill="#20a8f0" opacity="0.85"/>
<rect x="492" y="115" width="1.6" height="1.6" fill="#20a8f0" opacity="0.85"/>
<path d="M488.5,110.0 L493.8,117.6 L497.5,126.3 L499.5,134.0 L501.3,141.0 L502.0,150.0 L502.3,159.3" fill="none" stroke="#fff" stroke-width="1" opacity="0.85"/>
<g clip-path="url(#cb3)"><path d="M492.7,205.9 L498.0,195.4 L501.5,183.0 L503.2,172.5 L502.4,159.3 L512.6,159.3 L512.6,170.0 L511.5,170.0 L511.5,178.0 L509.0,178.0 L509.0,185.0 L507.0,185.0 L507.0,192.0 L503.6,192.0 L503.6,198.0 L501.0,198.0 L501.0,203.0 L497.5,203.0 L497.5,208.0 L493.0,208.0 L493.0,213.0 L485.0,213.0 Z" fill="#ff0000"/>
<clipPath id="g3b"><path d="M492.7,205.9 L498.0,195.4 L501.5,183.0 L503.2,172.5 L502.4,159.3 L516.6,159.3 L516.6,170.0 L515.5,170.0 L515.5,178.0 L513.0,178.0 L513.0,185.0 L511.0,185.0 L511.0,192.0 L507.6,192.0 L507.6,198.0 L505.0,198.0 L505.0,203.0 L501.5,203.0 L501.5,208.0 L497.0,208.0 L497.0,213.0 L489.0,213.0 Z"/></clipPath>
<g clip-path="url(#g3b)" shape-rendering="crispEdges">
<path d="M488.00,160.5H518.00M488.00,163.5H518.00M488.00,165.5H518.00M488.00,167.5H518.00M488.00,170.5H518.00M488.00,172.5H518.00M488.00,174.5H518.00M488.00,176.5H518.00M488.00,178.5H518.00M488.00,181.5H518.00M488.00,183.5H518.00M488.00,185.5H518.00M488.00,188.5H518.00M488.00,190.5H518.00M488.00,192.5H518.00M488.00,194.5H518.00M488.00,196.5H518.00M488.00,199.5H518.00M488.00,201.5H518.00M488.00,203.5H518.00M488.00,206.5H518.00M488.00,208.5H518.00M488.00,210.5H518.00M488.00,212.5H518.00" stroke="#fff" stroke-width="1" opacity="0.78" fill="none"/>
<path d="M488.50,160.5V214M490.50,160.5V214M492.50,160.5V214M495.50,160.5V214M497.50,160.5V214M499.50,160.5V214M502.50,160.5V214M504.50,160.5V214M506.50,160.5V214M508.50,160.5V214M510.50,160.5V214M513.50,160.5V214M515.50,160.5V214M517.50,160.5V214" stroke="#fff" stroke-width="1" opacity="0.8" fill="none"/>
</g></g>
<path d="M502.4,159.3 L502.5,170.0 L501.0,177.8 L498.0,188.3 L494.0,197.0 L489.0,205.0" fill="none" stroke="#fff" stroke-width="1" opacity="0.85"/>
<line x1="451.1" y1="89.3" x2="467.3" y2="161.5" stroke="#111" stroke-width="1.1"/>
<path d="M448.5,92.3 L451.0,88.8 L454.9,92.4" fill="none" stroke="#111" stroke-width="1.1"/>
<circle cx="467.4" cy="161.8" r="1.9" fill="#111"/>
<text x="401.90" y="82.4" font-size="12.6" text-anchor="start" textLength="74.4" lengthAdjust="spacingAndGlyphs">initiation point</text>
</g>
</svg></body></html>
